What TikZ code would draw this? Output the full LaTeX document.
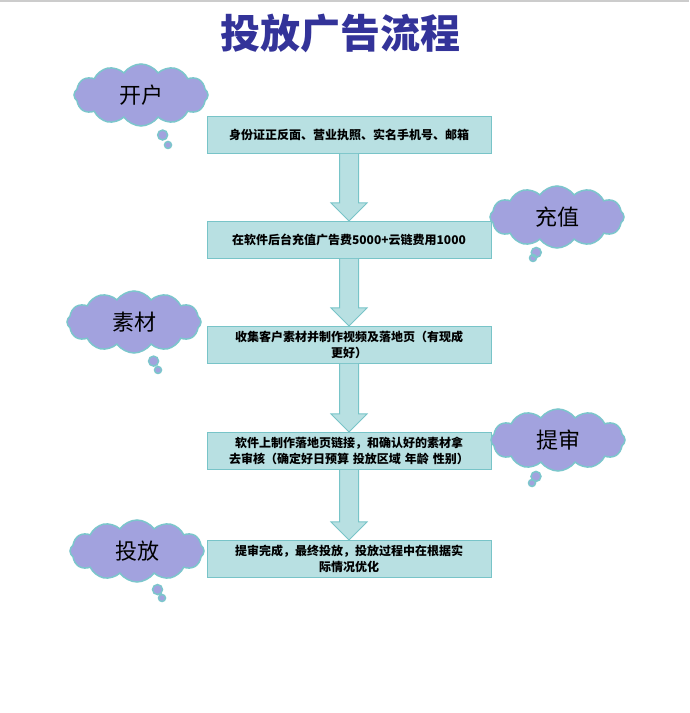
\documentclass[tikz,border=0pt]{standalone}
\usepackage{fontspec}
\setmainfont{Noto Sans CJK SC}
\usepackage{xcolor}
\usetikzlibrary{positioning,calc,shapes.callouts}
\definecolor{boxfill}{RGB}{184,224,226}
\definecolor{boxline}{RGB}{120,196,200}
\definecolor{cloudfill}{RGB}{162,162,222}
\definecolor{cloudline}{RGB}{124,198,204}
\definecolor{titleblue}{RGB}{51,51,153}
\tikzset{
	stepbox/.style={draw=boxline, fill=boxfill, line width=1pt, text width=278pt,
		minimum width=284pt, minimum height=37pt, inner sep=3pt, align=center,
		font=\fontsize{12}{16}\selectfont\bfseries},
	cloudtag/.style={cloud callout, draw=cloudline, fill=cloudfill, line width=1.5pt,
		cloud puffs=12, cloud puff arc=110, aspect=2.1, minimum width=134pt, minimum height=62pt,
		callout pointer start size=13pt, callout pointer end size=7pt,
		font=\fontsize{22}{22}\selectfont},
	flowarrow/.style={draw=boxline, fill=boxfill, line width=1pt}
}

\begin{document}
\begin{tikzpicture}[x=1pt, y=1pt, node distance=67pt]
		\useasboundingbox (0,0) rectangle (689,713);
		\draw[black!20, line width=1.5pt] (0,712) -- (689,712);
		\node[font=\fontsize{40}{40}\selectfont\bfseries, text=titleblue] (title) at (340,680) {投放广告流程};
		% steps
		\node[stepbox] (b1) at (349,578) {身份证正反面、营业执照、实名手机号、邮箱};
		\node[stepbox, below=of b1] (b2) {在软件后台充值广告费5000+云链费用1000};
		\node[stepbox, below=of b2] (b3) {收集客户素材并制作视频及落地页（有现成\\更好）};
		\node[stepbox, below=68pt of b3] (b4) {软件上制作落地页链接，和确认好的素材拿\\去审核（确定好日预算 投放区域 年龄 性别）};
		\node[stepbox, below=70pt of b4] (b5) {提审完成，最终投放，投放过程中在根据实\\际情况优化};
		\foreach \a/\b in {b1/b2,b2/b3,b3/b4,b4/b5}
			\draw[flowarrow] ($(\a.south)+(-9.5,0)$) -- ($(\b.north)+(-9.5,18)$) -- ($(\b.north)+(-18,18)$)
				-- (\b.north) -- ($(\b.north)+(18,18)$) -- ($(\b.north)+(9.5,18)$) -- ($(\a.south)+(9.5,0)$);
		% clouds
		\node[cloudtag, callout absolute pointer={(168,568)}] (kaihu) at (141,618) {开户};
		\node[cloudtag, callout absolute pointer={(533,455)}] (chongzhi) at (557,496) {充值};
		\node[cloudtag, callout absolute pointer={(158,343)}] (sucai) at (134,391) {素材};
		\node[cloudtag, callout absolute pointer={(532,230)}] (tishen) at (558,273) {提审};
		\node[cloudtag, callout absolute pointer={(162,115)}] (toufang) at (137,162) {投放};
\end{tikzpicture}
\end{document}
